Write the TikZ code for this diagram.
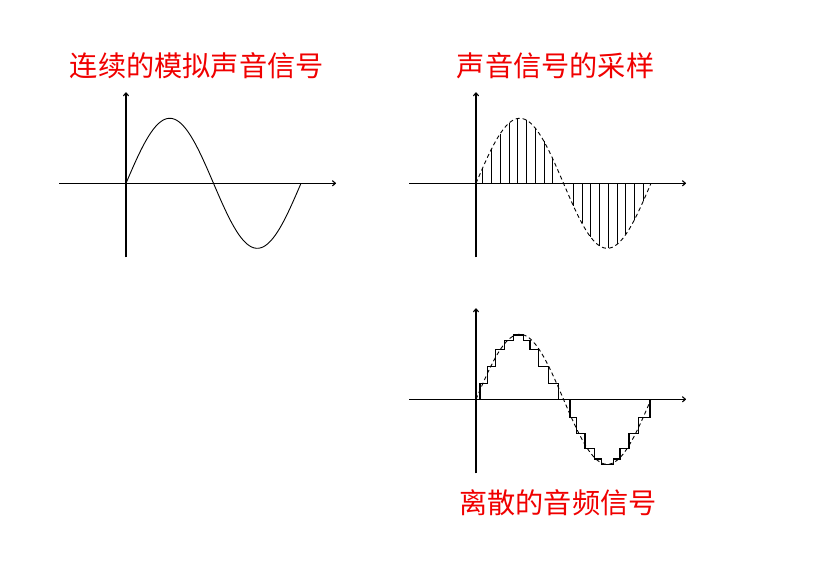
\documentclass[tikz,border=0pt]{standalone}
\usepackage{fontspec}
\newfontfamily\cjk{Noto Sans CJK SC}
\usetikzlibrary{arrows.meta}
\definecolor{titlered}{RGB}{240,0,0}
\tikzset{
  axisline/.style={line width=1.1pt, -{To[length=4pt,width=6pt]}},
  wave/.style={line width=0.9pt},
  dashwave/.style={line width=0.9pt, dash pattern=on 4pt off 3pt},
  sampleline/.style={line width=0.9pt},
  stairs/.style={line width=1.4pt},
  titletext/.style={text=titlered, font=\cjk\fontsize{28.2}{31}\selectfont, inner sep=0pt}
}
\begin{document}
\begin{tikzpicture}[x=1pt,y=-1pt]
\useasboundingbox (0,0) rectangle (834,574);

% titles
\node[titletext] (t1) at (196.7,66) {连续的模拟声音信号};
\node[titletext] (t2) at (555.5,66) {声音信号的采样};
\node[titletext] (t3) at (558,503) {离散的音频信号};

% ---------- plot 1 ----------
\begin{scope}[shift={(126,183.3)}, yscale=-1]
  \draw[axisline] (-67,0) -- (210,0);
  \draw[axisline] (0,-74) -- (0,91);
  \draw[wave] plot[domain=0:175, samples=120, smooth] (\x,{65*sin(\x/175*360)});
\end{scope}

% ---------- plot 2 ----------
\begin{scope}[shift={(476,183.3)}, yscale=-1]
  \draw[axisline] (-67,0) -- (210,0);
  \draw[axisline] (0,-74) -- (0,91);
  \draw[dashwave] plot[domain=0:175, samples=120, smooth] (\x,{65*sin(\x/175*360)});
  \foreach \k in {0,...,8} {
    \pgfmathsetmacro{\xa}{6.7+8.75*\k}
    \draw[sampleline] (\xa,0) -- (\xa,{65*sin(\xa/175*360)});
    \pgfmathsetmacro{\xb}{97.3+8.75*\k}
    \draw[sampleline] (\xb,0) -- (\xb,{65*sin(\xb/175*360)});
  }
\end{scope}

% ---------- plot 3 ----------
\begin{scope}[shift={(476,399.3)}, yscale=-1]
  \draw[axisline] (-67,0) -- (210,0);
  \draw[axisline] (0,-74) -- (0,91);
  \draw[dashwave] plot[domain=0:175, samples=120, smooth] (\x,{65*sin(\x/175*360)});
  \draw[stairs] (4,0) -- (4,15.6) -- (11.3,15.6) -- (11.3,32.6) -- (19.3,32.6) -- (19.3,50)
    -- (28.3,50) -- (28.3,59) -- (37.3,59) -- (37.3,64.3) -- (47.3,64.3) -- (47.3,59)
    -- (54,59) -- (54,50) -- (62.3,50) -- (62.3,32.6) -- (72.3,32.6) -- (72.3,15.6)
    -- (82.3,15.6) -- (82.3,0) -- (94,0) -- (94,-18.3) -- (100.7,-18.3) -- (100.7,-34)
    -- (109,-34) -- (109,-49) -- (118.3,-49) -- (118.3,-59.7) -- (125.7,-59.7) -- (125.7,-65)
    -- (137.3,-65) -- (137.3,-59.7) -- (144,-59.7) -- (144,-49) -- (153,-49) -- (153,-34)
    -- (162.3,-34) -- (162.3,-18.3) -- (174,-18.3) -- (174,0);
\end{scope}
\end{tikzpicture}
\end{document}
